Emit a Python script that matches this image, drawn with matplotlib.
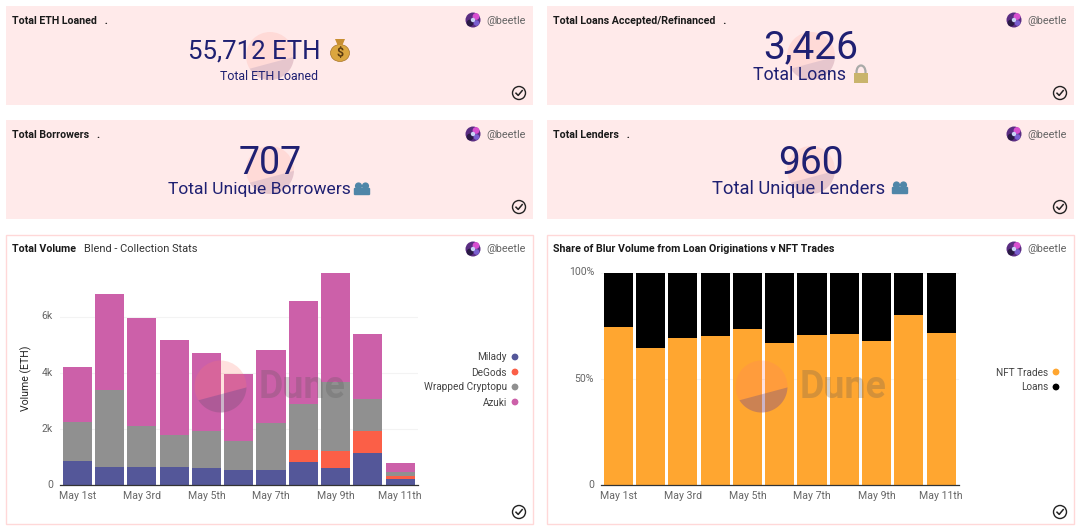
import numpy as np
import matplotlib.pyplot as plt
from matplotlib.patches import Circle, Rectangle, Polygon, Ellipse, FancyBboxPatch
from matplotlib.transforms import ScaledTranslation

plt.rcParams['font.family'] = ['Roboto', 'DejaVu Sans']

# chart data
days = ['May 1st', 'May 2nd', 'May 3rd', 'May 4th', 'May 5th', 'May 6th', 'May 7th', 'May 8th', 'May 9th', 'May 10th', 'May 11th']
milady = [878, 652, 640, 652, 629, 546, 546, 830, 629, 1150, 225]
degods = [0, 0, 0, 0, 0, 0, 0, 415, 593, 795, 119]
cryptopunks = [1388, 2740, 1471, 1150, 1305, 1032, 1684, 1660, 2443, 1115, 130]
azuki = [1933, 3428, 3831, 3368, 2763, 2384, 2574, 3653, 3902, 2325, 308]
nft_share = [74.3, 64.6, 69.4, 70.1, 73.5, 66.8, 70.5, 71.0, 67.9, 79.9, 71.6]
loan_share = [25.7, 35.4, 30.6, 29.9, 26.5, 33.2, 29.5, 29.0, 32.1, 20.1, 28.4]

C_MILADY = '#545799'
C_DEGODS = '#fb5f47'
C_PUNKS = '#909090'
C_AZUKI = '#cc60a9'
C_ORANGE = '#ffa630'
NAVY = '#1f2072'
PINK_BG = '#ffeaea'
PINK_EDGE = '#ffd8d8'

fig = plt.figure(figsize=(10.8, 5.32), dpi=100)

# pixel coordinates overlay, y goes down
def pixel_axes(z):
    a = fig.add_axes([0, 0, 1, 1], zorder=z)
    a.set_xlim(0, 1080)
    a.set_ylim(532, 0)
    a.axis('off')
    a.patch.set_alpha(0)
    return a

bg = pixel_axes(0)
top = pixel_axes(5)

def chart_axes(left, right, ytop, ybottom):
    return fig.add_axes([left / 1080, 1 - ybottom / 532, (right - left) / 1080, (ybottom - ytop) / 532], zorder=2)

# dune logo
def logo(a, cx, cy, r, word=False, pink=0.22, blue=0.28):
    a.add_patch(Circle((cx, cy), r, fc='#ff7a6a', ec='none', alpha=pink))
    t = np.radians(np.linspace(2, 148, 40))
    a.add_patch(Polygon(np.c_[cx + r * np.cos(t), cy + r * np.sin(t)], fc='#45408f', ec='none', alpha=blue))
    if word:
        a.text(cx + 38, cy + 1, 'Dune', fontsize=27, fontweight='bold', color='#555555', alpha=0.25, ha='left', va='center')

def header(a, x0, x1, y, title, extra=None):
    a.text(x0 + 6, y + 0.5, title, fontsize=7.7, fontweight='bold', color='#1a1a1a', ha='left', va='center')
    if extra:
        a.text(x0 + 78, y + 0.5, extra, fontsize=7.9, color='#333333', ha='left', va='center')
    a.text(x1 - 7, y + 0.5, '@beetle', fontsize=7.8, color='#666666', ha='right', va='center')
    # avatar
    ax_ = x1 - 60
    a.add_patch(Circle((ax_, y), 7.5, fc='#5a2d82', ec='none'))
    a.add_patch(Circle((ax_ + 3, y - 3.5), 3.4, fc='#d84fd0', ec='none'))
    a.add_patch(Circle((ax_ - 3, y + 3), 3.4, fc='#2a1a45', ec='none'))
    a.add_patch(Circle((ax_ + 3.5, y + 3), 2.8, fc='#7a5fd0', ec='none'))
    a.add_patch(Circle((ax_, y), 2.2, fc='#c9d4f5', ec='none'))

def check(a, cx, cy):
    a.add_patch(Circle((cx, cy), 6.5, fc='none', ec='#222222', lw=1))
    a.plot([cx - 3, cx - 0.8, cx + 3.2], [cy + 0.2, cy + 2.4, cy - 2.4], color='#222222', lw=1.1)

def people(a, cx, cy):
    c = '#4f86a8'
    a.add_patch(Circle((cx - 3.5, cy - 4), 3.6, fc=c, ec='none'))
    a.add_patch(Circle((cx + 3.5, cy - 4), 3.6, fc=c, ec='none'))
    a.add_patch(FancyBboxPatch((cx - 7, cy - 1), 14, 5, boxstyle='round,pad=1.2', fc=c, ec='none'))

def money_bag(a, cx, cy):
    a.add_patch(Ellipse((cx, cy + 3), 19, 17, fc='#dba63f', ec='#a8752a', lw=0.5))
    a.add_patch(Polygon([[cx - 5, cy - 11], [cx + 5, cy - 11], [cx + 2.5, cy - 5], [cx - 2.5, cy - 5]], fc='#c88f32', ec='none'))
    a.text(cx, cy + 3, '$', fontsize=9, color='#5a3a10', ha='center', va='center', fontweight='bold')

def lock(a, cx, cy):
    a.add_patch(Ellipse((cx, cy - 3), 9, 13, fc='none', ec='#a9aaa8', lw=1.6))
    a.add_patch(Rectangle((cx - 7, cy - 2), 14, 10, fc='#c9b46c', ec='none'))

# kpi panels
kpi = [
    (6, 533, 6, 105, 'Total ETH Loaned   .'),
    (547, 1074, 6, 105, 'Total Loans Accepted/Refinanced   .'),
    (6, 533, 120, 219, 'Total Borrowers   .'),
    (547, 1074, 120, 219, 'Total Lenders   .'),
]
for x0, x1, y0, y1, title in kpi:
    bg.add_patch(Rectangle((x0, y0), x1 - x0, y1 - y0, fc=PINK_BG, ec='none'))
    logo(bg, (x0 + x1) / 2 + 0.5, y0 + 50, 24, pink=0.14, blue=0.13)
    header(bg, x0, x1, y0 + 14, title)
    check(bg, x1 - 14, y1 - 12)

bg.text(254.5, 51.5, '55,712 ETH', fontsize=18.6, color=NAVY, ha='center', va='center')
bg.text(269.5, 77, 'Total ETH Loaned', fontsize=8.9, color=NAVY, ha='center', va='center')
money_bag(bg, 340, 50)
bg.text(811, 47.5, '3,426', fontsize=28, color=NAVY, ha='center', va='center')
bg.text(799.5, 75, 'Total Loans', fontsize=12.8, color=NAVY, ha='center', va='center')
lock(bg, 861, 75)
bg.text(270, 163, '707', fontsize=27, color=NAVY, ha='center', va='center')
bg.text(259, 189.5, 'Total Unique Borrowers', fontsize=12.6, color=NAVY, ha='center', va='center')
people(bg, 362, 190)
bg.text(811, 163, '960', fontsize=28, color=NAVY, ha='center', va='center')
bg.text(799, 189.5, 'Total Unique Lenders', fontsize=13.2, color=NAVY, ha='center', va='center')
people(bg, 900, 189)

# chart panels
for x0, x1 in [(6, 533), (547, 1074)]:
    bg.add_patch(Rectangle((x0, 235), x1 - x0, 289, fc='white', ec=PINK_EDGE, lw=1))
    check(top, x1 - 14, 512)
header(bg, 6, 533, 249, 'Total Volume', 'Blend - Collection Stats')
header(bg, 547, 1074, 249, 'Share of Blur Volume from Loan Originations v NFT Trades')

x = np.arange(len(days))
tick_pos = x[::2]
tick_lab = days[::2]

def style(a):
    a.patch.set_alpha(0)
    for s in ['top', 'left', 'right']:
        a.spines[s].set_visible(False)
    a.spines['bottom'].set_color('#333333')
    a.spines['bottom'].set_linewidth(0.9)
    a.set_xlim(-0.54, 10.54)
    a.set_xticks(tick_pos, tick_lab)
    a.tick_params(axis='x', length=0, labelsize=7.6, labelcolor='#666666', pad=4)
    a.tick_params(axis='y', length=0, labelsize=7.6, labelcolor='#666666', pad=5)
    a.grid(axis='y', color='#f3f3f3', lw=0.8)
    a.set_axisbelow(True)
    # labels sit a bit above the grid line
    up = ScaledTranslation(0, 1.3 / 100, fig.dpi_scale_trans)
    for lab in a.get_yticklabels():
        lab.set_transform(lab.get_transform() + up)

# left chart
ax1 = chart_axes(60.0, 417.5, 272.7, 485.3)
m = np.array(milady)
d = np.array(degods)
p = np.array(cryptopunks)
z = np.array(azuki)
ax1.bar(x, m, width=0.9, color=C_MILADY)
ax1.bar(x, d, width=0.9, bottom=m, color=C_DEGODS)
ax1.bar(x, p, width=0.9, bottom=m + d, color=C_PUNKS)
ax1.bar(x, z, width=0.9, bottom=m + d + p, color=C_AZUKI)
ax1.set_ylim(0, 7567)
ax1.set_yticks([0, 2000, 4000, 6000], ['0', '2k', '4k', '6k'])
style(ax1)
top.text(26.5, 378.5, 'Volume (ETH)', fontsize=7.6, rotation=90, color='#222222', ha='center', va='center')

# right chart
ax2 = chart_axes(601.0, 958.5, 272.7, 485.3)
ax2.bar(x, nft_share, width=0.9, color=C_ORANGE)
ax2.bar(x, loan_share, width=0.9, bottom=nft_share, color='black')
ax2.set_ylim(0, 100)
ax2.set_yticks([0, 50, 100], ['0', '50%', '100%'])
style(ax2)

logo(top, 220.5, 386.5, 26, word=True)
logo(top, 761.5, 386.5, 26, word=True)

# legends
def legend(labels, colors, xr, ys):
    for lab, col, yy in zip(labels, colors, ys):
        top.text(xr, yy + 0.5, lab, fontsize=7.2, color='#444444', ha='right', va='center')
        top.add_patch(Circle((xr + 8, yy), 3.4, fc=col, ec='none'))

legend(['Milady', 'DeGods', 'Wrapped Cryptopu', 'Azuki'], [C_MILADY, C_DEGODS, C_PUNKS, C_AZUKI], 507, [357, 372, 387, 402])
legend(['NFT Trades', 'Loans'], [C_ORANGE, 'black'], 1048, [372, 387])

fig.savefig('out.png', dpi=100)
